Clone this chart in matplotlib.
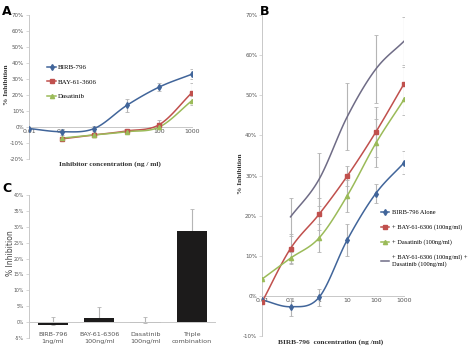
import numpy as np
import matplotlib
matplotlib.use("Agg")
import matplotlib.pyplot as plt
from matplotlib.ticker import FuncFormatter

# concentrations (ng/ml)
conc = [0.01, 0.1, 1, 10, 100, 1000]
conc_labels = ["0.01", "0.1", "1", "10", "100", "1000"]

# panel A - single agents
a_birb = [-1.0, -3.0, -1.0, 13.5, 25.0, 33.0]
a_birb_err = [0, 2.0, 1.5, 4.0, 2.5, 3.0]
a_bay = [None, -7.5, -5.0, -2.5, 1.5, 21.5]
a_bay_err = [0, 1.0, 1.0, 1.0, 3.0, 6.0]
a_das = [None, -7.0, -5.0, -3.0, 0.0, 16.5]
a_das_err = [0, 1.0, 1.0, 1.0, 1.5, 3.0]

# panel B - BIRB-796 titration with fixed partners
b_birb = [-1.0, -2.7, -0.4, 14.0, 25.5, 33.2]
b_birb_err = [0, 2.2, 2.0, 4.0, 2.3, 2.8]
b_bay = [-1.5, 11.8, 20.3, 29.9, 40.8, 52.9]
b_bay_err = [0, 3.5, 4.0, 2.5, 6.2, 4.2]
b_das = [4.2, 9.4, 14.4, 25.0, 38.0, 49.0]
b_das_err = [0, 1.5, 3.5, 4.0, 6.0, 4.0]
b_triple = [None, 19.7, 29.0, 44.7, 56.5, 63.5]
b_triple_err = [0, 4.8, 6.5, 8.3, 8.5, 6.0]

# panel C - combination at fixed doses
c_labels = ["BIRB-796\n1ng/ml", "BAY-61-6306\n100ng/ml", "Dasatinib\n100ng/ml", "Triple\ncombination"]
c_values = [-0.9, 1.3, -0.3, 28.6]
c_err = [2.6, 3.3, 1.8, 7.0]

BLUE = "#41659a"
RED = "#c0504d"
GREEN = "#9bbb59"
GREY = "#6f6c86"
ERR = "#b5b5b5"
SERIF = "Liberation Serif"


def smooth(xs, ys, n=24):
    # catmull-rom through the points, in log10(x) space
    px = np.log10(np.asarray(xs, float))
    py = np.asarray(ys, float)
    px = np.concatenate([[2 * px[0] - px[1]], px, [2 * px[-1] - px[-2]]])
    py = np.concatenate([[2 * py[0] - py[1]], py, [2 * py[-1] - py[-2]]])
    ox, oy = [], []
    for i in range(1, len(px) - 2):
        t = np.linspace(0, 1, n, endpoint=(i == len(px) - 3))
        for arr, out in ((px, ox), (py, oy)):
            p0, p1, p2, p3 = arr[i - 1], arr[i], arr[i + 1], arr[i + 2]
            out.extend(0.5 * (2 * p1 + (-p0 + p2) * t
                              + (2 * p0 - 5 * p1 + 4 * p2 - p3) * t ** 2
                              + (-p0 + 3 * p1 - 3 * p2 + p3) * t ** 3))
    return 10 ** np.array(ox), np.array(oy)


def series(ax, ys, errs, color, marker, label, ms=3):
    pts = [(c, y, e) for c, y, e in zip(conc, ys, errs) if y is not None]
    xs = [p[0] for p in pts]
    vs = [p[1] for p in pts]
    es = [p[2] for p in pts]
    ax.errorbar(xs, vs, yerr=es, fmt="none", ecolor=ERR, elinewidth=0.8,
                capsize=1.2, capthick=0.6, zorder=2)
    sx, sy = smooth(xs, vs)
    ax.plot(sx, sy, color=color, lw=1.1, zorder=3)
    ax.plot(xs, vs, linestyle="none", marker=marker, ms=ms, color=color,
            zorder=4)
    # proxy for the legend
    ax.plot([], [], color=color, lw=1.1, marker=marker, ms=ms, label=label)


def style_line_axes(ax, ymin, ymax, step):
    ax.set_xscale("log")
    ax.set_xlim(0.01, 1000)
    ax.set_ylim(ymin, ymax)
    ax.set_yticks(np.arange(ymin, ymax + 1, step))
    ax.yaxis.set_major_formatter(FuncFormatter(lambda v, p: "%d%%" % v))
    ax.set_xticks(conc)
    ax.set_xticklabels(conc_labels, fontfamily=SERIF)
    ax.minorticks_off()
    for s in ("top", "right"):
        ax.spines[s].set_visible(False)
    ax.spines["bottom"].set_position(("data", 0))
    ax.spines["bottom"].set_color("#c8c8c8")
    ax.spines["left"].set_color("#c8c8c8")
    ax.spines["bottom"].set_linewidth(0.7)
    ax.spines["left"].set_linewidth(0.7)
    ax.tick_params(axis="y", length=2, width=0.5, color="#c8c8c8",
                   labelsize=4, labelcolor="#555555", pad=1.5)
    ax.tick_params(axis="x", length=0, labelsize=4.5, labelcolor="#555555",
                   pad=1.5)
    ax.patch.set_alpha(0)


fig = plt.figure(figsize=(4.74, 3.47), dpi=100)

# ---- A
axA = fig.add_axes([0.0612, 0.542, 0.344, 0.415])
series(axA, a_birb, a_birb_err, BLUE, "d", "BIRB-796")
series(axA, a_bay, a_bay_err, RED, "s", "BAY-61-3606")
series(axA, a_das, a_das_err, GREEN, "^", "Dasatinib")
style_line_axes(axA, -20, 70, 10)
fig.text(0.232, 0.527, "Inhibitor concentration (ng / ml)",
         ha="center", va="center", fontsize=5.3, fontweight="bold",
         fontfamily=SERIF, color="#333333")
fig.text(0.013, 0.755, "% Inhibition", rotation=90, ha="center", va="center",
         fontsize=5.3, fontweight="bold", fontfamily=SERIF, color="#333333")
axA.legend(loc="upper left", bbox_to_anchor=(0.092, 0.825),
           bbox_transform=fig.transFigure, frameon=False,
           prop={"family": SERIF, "size": 5}, handlelength=1.3,
           handletextpad=0.2, labelspacing=1.25, borderpad=0)

# ---- B
axB = fig.add_axes([0.553, 0.0317, 0.2996, 0.925])
series(axB, b_birb, b_birb_err, BLUE, "d", "BIRB-796 Alone")
series(axB, b_bay, b_bay_err, RED, "s", "+ BAY-61-6306 (100ng/ml)")
series(axB, b_das, b_das_err, GREEN, "^", "+ Dasatinib (100ng/ml)")
series(axB, b_triple, b_triple_err, GREY, "None",
       "+ BAY-61-6306 (100ng/ml) +\nDasatinib (100ng/ml)")
style_line_axes(axB, -10, 70, 10)
fig.text(0.698, 0.015, "BIRB-796  concentration (ng /ml)", ha="center",
         va="center", fontsize=5.3, fontweight="bold", fontfamily=SERIF,
         color="#333333")
fig.text(0.508, 0.5, "% Inhibition", rotation=90, ha="center", va="center",
         fontsize=5.3, fontweight="bold", fontfamily=SERIF, color="#333333")
axB.legend(loc="upper left", bbox_to_anchor=(0.797, 0.405),
           bbox_transform=fig.transFigure, frameon=False,
           prop={"family": SERIF, "size": 4.6}, handlelength=1.3,
           handletextpad=0.5, labelspacing=1.45, borderpad=0)

# ---- C
axC = fig.add_axes([0.0612, 0.026, 0.392, 0.412])
xc = np.arange(len(c_values))
axC.bar(xc, c_values, width=0.65, color="#1c1b1b", zorder=2)
axC.errorbar(xc, c_values, yerr=[[0] * len(c_err), c_err], fmt="none",
             ecolor=ERR, elinewidth=0.8, capsize=1.2, capthick=0.6, zorder=1)
axC.set_xlim(-0.52, 3.5)
axC.set_ylim(-5, 40)
axC.set_yticks(np.arange(-5, 41, 5))
axC.yaxis.set_major_formatter(FuncFormatter(lambda v, p: "%d%%" % v))
axC.set_xticks([])
for i, lab in enumerate(c_labels):
    axC.text(i, -4.9, lab, ha="center", va="center", fontsize=4.6,
             color="#555555", linespacing=1.5)
for s in ("top", "right"):
    axC.spines[s].set_visible(False)
axC.spines["bottom"].set_position(("data", 0))
for s in ("bottom", "left"):
    axC.spines[s].set_color("#c8c8c8")
    axC.spines[s].set_linewidth(0.7)
axC.tick_params(axis="y", length=2, width=0.5, color="#c8c8c8", labelsize=3.3,
                labelcolor="#555555", pad=1.5)
axC.patch.set_alpha(0)
fig.text(0.022, 0.27, "% Inhibition", rotation=90, ha="center", va="center",
         fontsize=5.5, color="#444444")

# panel letters
fig.text(0.004, 0.985, "A", fontsize=9, fontweight="bold", va="top")
fig.text(0.548, 0.985, "B", fontsize=9, fontweight="bold", va="top")
fig.text(0.004, 0.475, "C", fontsize=9, fontweight="bold", va="top")

fig.savefig("out.png", dpi=100)
